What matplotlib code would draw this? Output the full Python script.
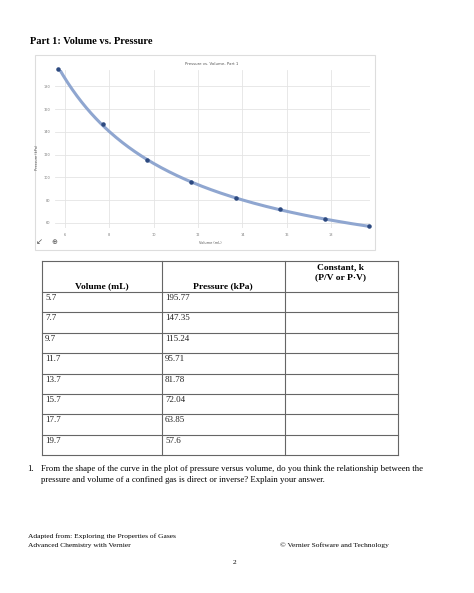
import matplotlib
matplotlib.use("Agg")
import matplotlib.pyplot as plt
import numpy as np

volume = [5.7, 7.7, 9.7, 11.7, 13.7, 15.7, 17.7, 19.7]
pressure = [195.77, 147.35, 115.24, 95.71, 81.78, 72.04, 63.85, 57.6]
vol_labels = ["5.7", "7.7", "9.7", "11.7", "13.7", "15.7", "17.7", "19.7"]
pres_labels = ["195.77", "147.35", "115.24", "95.71", "81.78", "72.04", "63.85", "57.6"]
x_ticks = [6, 8, 10, 12, 14, 16, 18]
y_ticks = [60, 80, 100, 120, 140, 160, 180]

W, H = 474, 593
fig = plt.figure(figsize=(W/100, H/100), dpi=100)
page = fig.add_axes([0, 0, 1, 1])
page.set_xlim(0, W); page.set_ylim(H, 0); page.axis("off")
serif = "Liberation Serif"

page.text(30, 42, "Part 1: Volume vs. Pressure", fontsize=7.5, fontweight="bold", family=serif, va="center")

# chart frame
page.add_patch(plt.Rectangle((35, 55), 340, 195, fill=False, ec="#dddddd", lw=0.8))
page.text(212, 64, "Pressure vs. Volume- Part 1", fontsize=2.8, color="#555", ha="center", va="center")
page.text(210, 243, "Volume (mL)", fontsize=2.5, color="#555", ha="center", va="center")
page.text(37, 157, "Pressure (kPa)", fontsize=2.5, color="#555", ha="center", va="center", rotation=90)
page.text(39, 242, "↙", fontsize=6, color="#555", ha="center", va="center")
page.text(54, 242, "⊕", fontsize=5, color="#555", ha="center", va="center")

ax = fig.add_axes([55/W, 1-228/H, 315/W, 158/H])
ax.set_xlim(5.55, 19.75); ax.set_ylim(55.5, 194.5)
ax.set_xticks(x_ticks); ax.set_yticks(y_ticks)
ax.tick_params(labelsize=2.5, colors="#777", length=0)
ax.grid(color="#e4e4e4", lw=0.6)
for s in ax.spines.values():
    s.set_visible(False)
v = np.array(volume); p = np.array(pressure)
a = np.sum(p/v)/np.sum(1/v**2)
xs = np.linspace(5.7, 19.7, 200)
ax.plot(xs, a/xs, color="#8fa6d0", lw=2.2, zorder=2)
ax.scatter(volume, pressure, s=5, color="#2d4a80", zorder=3, clip_on=False)

# legend box
page.add_patch(plt.Rectangle((303, 115), 66, 82, fc="white", ec="#dddddd", lw=0.6))
page.add_patch(plt.Rectangle((303, 115), 66, 15, fc="#cfcfcf", ec="#bbbbbb", lw=0.6))
page.text(308, 136, "x-range: 5.7 - 19.7 mL", fontsize=2.3, color="#666")
page.text(308, 143, "y = a/x", fontsize=2.3, color="#666")
page.text(308, 152, "a: 1123", fontsize=2.3, color="#666")
page.text(308, 158, "RMSE: 0.7805", fontsize=2.3, color="#666")
page.plot([306, 306], [148, 160], color="#888", lw=0.6)

# table
L, c1, c2, R = 42, 162, 285, 398
top, hb, rh = 261, 292, 20.4
bot = hb + rh*len(volume)
for x in (L, c1, c2, R):
    page.plot([x, x], [top, bot], color="#666", lw=0.8)
ys = [top, hb] + [hb + rh*(i+1) for i in range(len(volume))]
for y in ys:
    page.plot([L, R], [y, y], color="#666", lw=0.8)
page.text(102, 286, "Volume (mL)", fontsize=6.8, fontweight="bold", family=serif, ha="center", va="center")
page.text(223, 286.5, "Pressure (kPa)", fontsize=6.8, fontweight="bold", family=serif, ha="center", va="center")
page.text(341, 267, "Constant, k", fontsize=6.8, fontweight="bold", family=serif, ha="center", va="center")
page.text(341, 277.5, "(P/V or P·V)", fontsize=6.8, fontweight="bold", family=serif, ha="center", va="center")
for i in range(len(volume)):
    y = hb + rh*i + 6
    page.text(L+3, y, vol_labels[i], fontsize=6.5, family=serif, va="center", color="#222")
    page.text(c1+3, y, pres_labels[i], fontsize=6.5, family=serif, va="center", color="#222")

page.text(27, 469, "1.", fontsize=6.3, family=serif, va="center")
page.text(41, 469, "From the shape of the curve in the plot of pressure versus volume, do you think the relationship between the",
          fontsize=6.3, family=serif, va="center")
page.text(41, 479.5, "pressure and volume of a confined gas is direct or inverse? Explain your answer.",
          fontsize=6.3, family=serif, va="center")
page.text(28, 536, "Adapted from: Exploring the Properties of Gases", fontsize=5.4, family=serif, va="center")
page.text(28, 545, "Advanced Chemistry with Vernier", fontsize=5.4, family=serif, va="center")
page.text(389, 545, "© Vernier Software and Technology", fontsize=5.4, family=serif, va="center", ha="right")
page.text(235, 562, "2", fontsize=5.4, family=serif, va="center", ha="center")

fig.savefig("out.png", dpi=100)
